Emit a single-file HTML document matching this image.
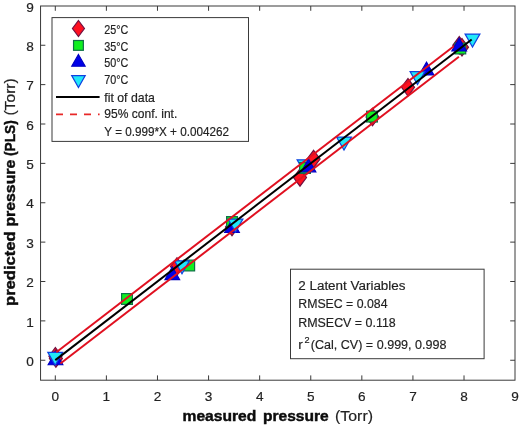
<!DOCTYPE html>
<html><head><meta charset="utf-8"><title>PLS predicted vs measured pressure</title>
<style>
html,body{margin:0;padding:0;background:#fff;}
svg{display:block;}
text{font-family:"Liberation Sans",sans-serif;fill:#222;stroke:#222;stroke-width:0.18px;}
</style></head>
<body>
<svg width="520" height="428" viewBox="0 0 520 428">
<rect x="0" y="0" width="520" height="428" fill="#ffffff"/>
<g>
<polygon points="297.10,159.85 311.90,159.85 304.50,172.75" fill="#20e8f8" stroke="#1040e0" stroke-width="1.2"/>
<polygon points="55.40,347.50 61.90,356.20 55.40,364.90 48.90,356.20" fill="#ff1020" stroke="#701040" stroke-width="1.2"/>
<polygon points="55.90,349.90 62.40,358.60 55.90,367.30 49.40,358.60" fill="#ff1020" stroke="#701040" stroke-width="1.2"/>
<polygon points="177.00,257.80 183.50,266.50 177.00,275.20 170.50,266.50" fill="#ff1020" stroke="#701040" stroke-width="1.2"/>
<polygon points="232.00,218.30 238.50,227.00 232.00,235.70 225.50,227.00" fill="#ff1020" stroke="#701040" stroke-width="1.2"/>
<polygon points="300.00,168.80 306.50,177.50 300.00,186.20 293.50,177.50" fill="#ff1020" stroke="#701040" stroke-width="1.2"/>
<polygon points="313.60,150.30 320.10,159.00 313.60,167.70 307.10,159.00" fill="#ff1020" stroke="#701040" stroke-width="1.2"/>
<polygon points="372.50,108.30 379.00,117.00 372.50,125.70 366.00,117.00" fill="#ff1020" stroke="#701040" stroke-width="1.2"/>
<polygon points="408.00,78.60 414.50,87.30 408.00,96.00 401.50,87.30" fill="#ff1020" stroke="#701040" stroke-width="1.2"/>
<polygon points="459.30,36.60 465.80,45.30 459.30,54.00 452.80,45.30" fill="#ff1020" stroke="#701040" stroke-width="1.2"/>
<polygon points="462.00,38.50 468.50,47.20 462.00,55.90 455.50,47.20" fill="#ff1020" stroke="#701040" stroke-width="1.2"/>
<rect x="121.60" y="293.60" width="10.80" height="10.80" fill="#10f020" stroke="#107048" stroke-width="1.2"/>
<rect x="183.80" y="260.10" width="10.80" height="10.80" fill="#10f020" stroke="#107048" stroke-width="1.2"/>
<rect x="226.60" y="216.60" width="10.80" height="10.80" fill="#10f020" stroke="#107048" stroke-width="1.2"/>
<rect x="299.60" y="162.60" width="10.80" height="10.80" fill="#10f020" stroke="#107048" stroke-width="1.2"/>
<rect x="366.60" y="111.20" width="10.80" height="10.80" fill="#10f020" stroke="#107048" stroke-width="1.2"/>
<rect x="454.90" y="43.10" width="10.80" height="10.80" fill="#10f020" stroke="#107048" stroke-width="1.2"/>
<polygon points="55.50,351.85 62.90,364.75 48.10,364.75" fill="#0000e8" stroke="#0000c0" stroke-width="1.1"/>
<polygon points="172.30,266.75 179.70,279.65 164.90,279.65" fill="#0000e8" stroke="#0000c0" stroke-width="1.1"/>
<polygon points="232.00,219.55 239.40,232.45 224.60,232.45" fill="#0000e8" stroke="#0000c0" stroke-width="1.1"/>
<polygon points="308.50,158.95 315.90,171.85 301.10,171.85" fill="#0000e8" stroke="#0000c0" stroke-width="1.1"/>
<polygon points="426.50,62.05 433.90,74.95 419.10,74.95" fill="#0000e8" stroke="#0000c0" stroke-width="1.1"/>
<polygon points="459.20,38.15 466.60,51.05 451.80,51.05" fill="#0000e8" stroke="#0000c0" stroke-width="1.1"/>
<polygon points="47.80,352.35 62.60,352.35 55.20,365.25" fill="#20e8f8" stroke="#1040e0" stroke-width="1.2"/>
<polygon points="174.60,260.85 189.40,260.85 182.00,273.75" fill="#20e8f8" stroke="#1040e0" stroke-width="1.2"/>
<polygon points="228.10,219.05 242.90,219.05 235.50,231.95" fill="#20e8f8" stroke="#1040e0" stroke-width="1.2"/>
<polygon points="336.60,137.05 351.40,137.05 344.00,149.95" fill="#20e8f8" stroke="#1040e0" stroke-width="1.2"/>
<polygon points="410.10,71.55 424.90,71.55 417.50,84.45" fill="#20e8f8" stroke="#1040e0" stroke-width="1.2"/>
<polygon points="465.10,34.05 479.90,34.05 472.50,46.95" fill="#20e8f8" stroke="#1040e0" stroke-width="1.2"/>
</g>
<g fill="none" stroke-linecap="butt">
<line x1="56.32" y1="352.22" x2="453.80" y2="46.19" stroke="#e01020" stroke-width="2.0"/>
<line x1="60.41" y1="363.56" x2="458.91" y2="56.74" stroke="#e01020" stroke-width="2.0"/>
<line x1="55.30" y1="360.09" x2="471.68" y2="39.51" stroke="#000" stroke-width="2.0"/>
</g>
<g stroke="#3a3a3a" stroke-width="1" fill="none">
<rect x="40.55" y="6.00" width="474.45" height="374.20"/>
<line x1="55.30" y1="380.20" x2="55.30" y2="375.40"/><line x1="55.30" y1="6.00" x2="55.30" y2="10.80"/>
<line x1="40.55" y1="360.25" x2="45.35" y2="360.25"/><line x1="515.00" y1="360.25" x2="510.20" y2="360.25"/>
<line x1="106.39" y1="380.20" x2="106.39" y2="375.40"/><line x1="106.39" y1="6.00" x2="106.39" y2="10.80"/>
<line x1="40.55" y1="320.88" x2="45.35" y2="320.88"/><line x1="515.00" y1="320.88" x2="510.20" y2="320.88"/>
<line x1="157.48" y1="380.20" x2="157.48" y2="375.40"/><line x1="157.48" y1="6.00" x2="157.48" y2="10.80"/>
<line x1="40.55" y1="281.50" x2="45.35" y2="281.50"/><line x1="515.00" y1="281.50" x2="510.20" y2="281.50"/>
<line x1="208.57" y1="380.20" x2="208.57" y2="375.40"/><line x1="208.57" y1="6.00" x2="208.57" y2="10.80"/>
<line x1="40.55" y1="242.12" x2="45.35" y2="242.12"/><line x1="515.00" y1="242.12" x2="510.20" y2="242.12"/>
<line x1="259.66" y1="380.20" x2="259.66" y2="375.40"/><line x1="259.66" y1="6.00" x2="259.66" y2="10.80"/>
<line x1="40.55" y1="202.75" x2="45.35" y2="202.75"/><line x1="515.00" y1="202.75" x2="510.20" y2="202.75"/>
<line x1="310.75" y1="380.20" x2="310.75" y2="375.40"/><line x1="310.75" y1="6.00" x2="310.75" y2="10.80"/>
<line x1="40.55" y1="163.38" x2="45.35" y2="163.38"/><line x1="515.00" y1="163.38" x2="510.20" y2="163.38"/>
<line x1="361.84" y1="380.20" x2="361.84" y2="375.40"/><line x1="361.84" y1="6.00" x2="361.84" y2="10.80"/>
<line x1="40.55" y1="124.00" x2="45.35" y2="124.00"/><line x1="515.00" y1="124.00" x2="510.20" y2="124.00"/>
<line x1="412.93" y1="380.20" x2="412.93" y2="375.40"/><line x1="412.93" y1="6.00" x2="412.93" y2="10.80"/>
<line x1="40.55" y1="84.62" x2="45.35" y2="84.62"/><line x1="515.00" y1="84.62" x2="510.20" y2="84.62"/>
<line x1="464.02" y1="380.20" x2="464.02" y2="375.40"/><line x1="464.02" y1="6.00" x2="464.02" y2="10.80"/>
<line x1="40.55" y1="45.25" x2="45.35" y2="45.25"/><line x1="515.00" y1="45.25" x2="510.20" y2="45.25"/>
</g>
<g font-size="13.6">
<text x="55.30" y="400.60" text-anchor="middle">0</text><text x="106.39" y="400.60" text-anchor="middle">1</text><text x="157.48" y="400.60" text-anchor="middle">2</text><text x="208.57" y="400.60" text-anchor="middle">3</text><text x="259.66" y="400.60" text-anchor="middle">4</text><text x="310.75" y="400.60" text-anchor="middle">5</text><text x="361.84" y="400.60" text-anchor="middle">6</text><text x="412.93" y="400.60" text-anchor="middle">7</text><text x="464.02" y="400.60" text-anchor="middle">8</text><text x="515.11" y="400.60" text-anchor="middle">9</text>
<text x="33.80" y="365.95" text-anchor="end">0</text><text x="33.80" y="326.57" text-anchor="end">1</text><text x="33.80" y="287.20" text-anchor="end">2</text><text x="33.80" y="247.82" text-anchor="end">3</text><text x="33.80" y="208.45" text-anchor="end">4</text><text x="33.80" y="169.07" text-anchor="end">5</text><text x="33.80" y="129.70" text-anchor="end">6</text><text x="33.80" y="90.33" text-anchor="end">7</text><text x="33.80" y="50.95" text-anchor="end">8</text><text x="33.80" y="11.57" text-anchor="end">9</text>
</g>
<g font-size="15.4" style="fill:#0c0c0c">
<text x="182.50" y="420.75" textLength="73.75" lengthAdjust="spacingAndGlyphs" style="font-weight:bold;stroke:#0c0c0c;stroke-width:0.45px;fill:#0c0c0c">measured</text><text x="263.00" y="420.75" textLength="65.75" lengthAdjust="spacingAndGlyphs" style="font-weight:bold;stroke:#0c0c0c;stroke-width:0.45px;fill:#0c0c0c">pressure</text><text x="335.00" y="420.75" textLength="38.00" lengthAdjust="spacingAndGlyphs">(Torr)</text>
<g transform="translate(15.4,306) rotate(-90)"><text x="0.00" y="0.00" textLength="74.70" lengthAdjust="spacingAndGlyphs" style="font-weight:bold;stroke:#0c0c0c;stroke-width:0.45px;fill:#0c0c0c">predicted</text><text x="79.40" y="0.00" textLength="66.90" lengthAdjust="spacingAndGlyphs" style="font-weight:bold;stroke:#0c0c0c;stroke-width:0.45px;fill:#0c0c0c">pressure</text><text x="150.00" y="0.00" textLength="35.80" lengthAdjust="spacingAndGlyphs" style="font-weight:bold;stroke:#0c0c0c;stroke-width:0.45px;fill:#0c0c0c">(PLS)</text><text x="190.40" y="0.00" textLength="37.40" lengthAdjust="spacingAndGlyphs">(Torr)</text></g>
</g>
<rect x="52" y="17.6" width="196.5" height="123.8" fill="#fff" stroke="#3a3a3a" stroke-width="1"/>
<polygon points="78.45,20.50 84.45,28.50 78.45,36.50 72.45,28.50" fill="#ff1020" stroke="#701040" stroke-width="1.2"/>
<rect x="73.55" y="40.50" width="9.80" height="9.80" fill="#10f020" stroke="#107048" stroke-width="1.2"/>
<polygon points="78.45,54.40 85.20,66.20 71.70,66.20" fill="#0000e8" stroke="#0000c0" stroke-width="1.1"/>
<polygon points="71.70,75.65 85.20,75.65 78.45,87.45" fill="#20e8f8" stroke="#1040e0" stroke-width="1.2"/>
<line x1="56" y1="97" x2="99.6" y2="97" stroke="#000" stroke-width="2"/>
<line x1="56" y1="114.4" x2="99.6" y2="114.4" stroke="#e82828" stroke-width="1.6" stroke-dasharray="7,7"/>
<g font-size="12.2">
<text x="104.30" y="33.80" textLength="24.10" lengthAdjust="spacingAndGlyphs">25°C</text>
<text x="104.30" y="50.60" textLength="24.10" lengthAdjust="spacingAndGlyphs">35°C</text>
<text x="104.30" y="67.40" textLength="24.10" lengthAdjust="spacingAndGlyphs">50°C</text>
<text x="104.30" y="84.30" textLength="24.10" lengthAdjust="spacingAndGlyphs">70°C</text>
<text x="104.30" y="101.50" textLength="50.60" lengthAdjust="spacingAndGlyphs">fit of data</text>
<text x="104.30" y="118.40" textLength="73.00" lengthAdjust="spacingAndGlyphs">95% conf. int.</text>
<text x="104.30" y="136.20" textLength="124.70" lengthAdjust="spacingAndGlyphs">Y = 0.999*X + 0.004262</text>
</g>
<rect x="290.5" y="269.2" width="193.6" height="89.5" fill="#fff" stroke="#3a3a3a" stroke-width="1"/>
<g font-size="13.7">
<text x="298.25" y="289.60" textLength="107.25" lengthAdjust="spacingAndGlyphs">2 Latent Variables</text>
<text x="298.25" y="308.20" textLength="89.25" lengthAdjust="spacingAndGlyphs">RMSEC = 0.084</text>
<text x="298.25" y="326.50" textLength="97.50" lengthAdjust="spacingAndGlyphs">RMSECV = 0.118</text>
<text x="298.25" y="349">r</text><text x="304.4" y="343.2" font-size="9.2">2</text><text x="310.75" y="349.00" textLength="135.75" lengthAdjust="spacingAndGlyphs">(Cal, CV) = 0.999, 0.998</text>
</g>
</svg>
</body></html>
